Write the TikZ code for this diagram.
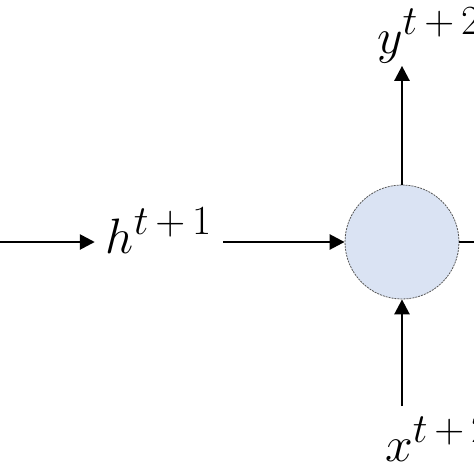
\documentclass[tikz,border=0pt]{standalone}
\usepackage{graphicx}
\usetikzlibrary{arrows.meta}
\newcommand{\lbltext}[1]{\scalebox{2.0}{\fontsize{24.88}{30}\selectfont$#1$}}
\begin{document}
\begin{tikzpicture}[x=1pt,y=-1pt,
  conn/.style={line width=2.6pt,-{Triangle[length=15pt,width=15pt]}},
  lbl/.style={inner sep=0pt},
  cell/.style={circle,minimum size=114pt,inner sep=0pt,fill=cellblue,draw=gray!70!black,dash pattern=on 2pt off 1pt,line width=0.8pt}]
\definecolor{cellblue}{HTML}{DAE3F3}
\useasboundingbox (0,0) rectangle (474,474);
\coordinate (L) at (-5,242);
\coordinate (R) at (485,242);
\node[cell] (c) at (402,242) {};
\node[lbl,anchor=base,minimum width=128pt] (h) at (159,253) {\lbltext{h^{t\,+\,1}}};
\node[lbl,anchor=base west,inner ysep=3pt] (y) at (377,53) {\lbltext{y^{t\,+\,2}}};
\node[lbl,anchor=base west,inner ysep=10pt] (x) at (385,461) {\lbltext{x^{t\,+\,2}}};
\draw[conn] (L) -- (L -| h.west);
\draw[conn] (h.east |- L) -- (c.west);
\draw[conn] (c.north) -- (c.north |- y.south);
\draw[conn] (c.south |- x.north) -- (c.south);
\draw[line width=2.6pt] (c.east) -- (R);
\end{tikzpicture}
\end{document}
